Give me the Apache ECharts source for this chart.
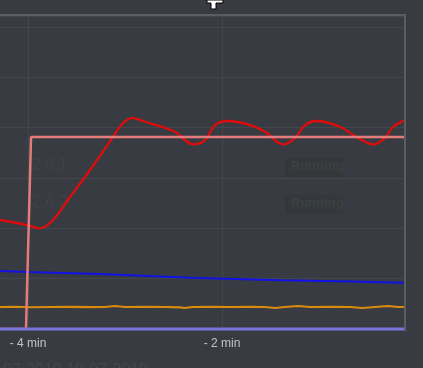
<!DOCTYPE html>
<html><head><meta charset="utf-8">
<script src="https://cdn.jsdelivr.net/npm/echarts@6/dist/echarts.min.js"></script>
<style>html,body{margin:0;padding:0;background:#383b41;}#c{width:423px;height:368px;}</style>
</head><body><div id="c"></div>
<script>
// x: minutes relative to now, y: arbitrary units
const xTicks = [-4, -2];
const redT = [-4.289,-4.010,-3.876,-3.742,-3.567,-3.361,-3.124,-3.031,-2.928,-2.794,-2.485,-2.381,-2.299,-2.175,-2.072,-1.938,-1.711,-1.557,-1.371,-1.247,-1.144,-1.021,-0.784,-0.629,-0.443,-0.320,-0.237,-0.134,-0.113];
const redV = [2.166,2.066,2.001,2.166,2.623,3.159,3.815,4.073,4.192,4.119,3.920,3.755,3.670,3.755,4.053,4.133,4.053,3.920,3.670,3.795,4.053,4.133,4.019,3.835,3.670,3.795,4.019,4.133,4.15];
const blueT = [-4.289,-4.010,-3.258,-2.330,-1.402,-0.680,-0.113];
const blueV = [1.152,1.132,1.093,1.019,0.968,0.944,0.920];
const orangeT = [-4.289,-4.134,-3.979,-3.773,-3.567,-3.361,-3.206,-3.103,-3.000,-2.794,-2.588,-2.433,-2.381,-2.309,-2.124,-1.918,-1.711,-1.557,-1.454,-1.351,-1.216,-1.093,-0.887,-0.680,-0.557,-0.454,-0.289,-0.186,-0.113];
const orangeV = [0.437,0.442,0.432,0.437,0.440,0.435,0.437,0.457,0.437,0.440,0.437,0.430,0.417,0.437,0.440,0.437,0.442,0.437,0.417,0.437,0.457,0.437,0.440,0.437,0.417,0.432,0.457,0.437,0.437];
const pinkT = [-4.289,-4.021,-3.969,-0.113];
const pinkV = [0,0,3.815,3.815];
const purpleT = [-4.289,-0.113];
const purpleV = [0,0];

const zip = (a,b) => a.map((v,i)=>[v,b[i]]);
const chart = echarts.init(document.getElementById('c'), null, {renderer:'canvas'});
chart.setOption({
  backgroundColor: '#383b41',
  animation: false,
  grid: {left: 0, right: 19, top: 16, bottom: 39, containLabel: false},
  xAxis: {
    type: 'value', min: -4.289, max: -0.124,
    axisLine: {show: false},
    axisTick: {show: false, customValues: xTicks},
    axisLabel: {customValues: xTicks, color: '#c4c4c4', fontSize: 12, fontFamily: 'Liberation Sans, Arial, sans-serif', margin: 9,
      formatter: v => '- ' + Math.abs(v) + ' min'},
    splitLine: {show: true, lineStyle: {color: '#43464c', width: 1}}
  },
  yAxis: {
    type: 'value', min: 0, max: 6.22, interval: 1,
    axisLine: {show: false}, axisTick: {show: false}, axisLabel: {show: false},
    splitLine: {show: true, lineStyle: {color: '#43464c', width: 1}}
  },
  graphic: [
    {type:'text', left: 32, top: 158, style:{text:'2.5.1', fill:'#3f4248', font:'16px Liberation Sans, Arial'}, z: 0},
    {type:'text', left: 32, top: 195, style:{text:'2.6.2', fill:'#3f4248', font:'16px Liberation Sans, Arial'}, z: 0},
    {type:'rect', shape:{x:285, y:158, width:58, height:19, r:2}, style:{fill:'#34383a'}, z: 0},
    {type:'text', left: 291, top: 160, style:{text:'Running', fill:'#3c4144', font:'bold 13px Liberation Sans, Arial'}, z: 0},
    {type:'rect', shape:{x:285, y:195, width:58, height:19, r:2}, style:{fill:'#34383a'}, z: 0},
    {type:'text', left: 291, top: 197, style:{text:'Running', fill:'#3c4144', font:'bold 13px Liberation Sans, Arial'}, z: 0},
    {type:'text', left: 3, top: 363, style:{text:'07-2019 10-07-2019', fill:'#44474d', font:'16px Liberation Sans, Arial'}, z: 0},
    {type:'line', shape:{x1:0, y1:15, x2:406, y2:15}, style:{stroke:'#5b5d61', lineWidth:2}, z: 10},
    {type:'line', shape:{x1:405, y1:14, x2:405, y2:331}, style:{stroke:'#5b5d61', lineWidth:2}, z: 10},
    {type:'polygon', shape:{points:[[207,0],[223,0],[223,3],[216,3],[216,9],[211,9],[211,3],[207,3]]}, style:{fill:'#ffffff', stroke:'#000000', lineWidth:1}, z: 20}
  ],
  series: [
    {type:'line', data: zip(redT, redV), smooth: 0.35, symbol:'none', lineStyle:{color:'#e00c0c', width:2.3}, z: 2},
    {type:'line', data: zip(blueT, blueV), symbol:'none', lineStyle:{color:'#1212e8', width:2}, z: 3},
    {type:'line', data: zip(orangeT, orangeV), symbol:'none', lineStyle:{color:'#d98c0c', width:2.2}, z: 4},
    {type:'line', data: zip(pinkT, pinkV), symbol:'none', lineStyle:{color:'#e57c7c', width:2.5}, z: 5},
    {type:'line', data: zip(purpleT, purpleV), symbol:'none', clip:false, lineStyle:{color:'#7a74dc', width:3}, z: 6}
  ]
});
</script></body></html>
